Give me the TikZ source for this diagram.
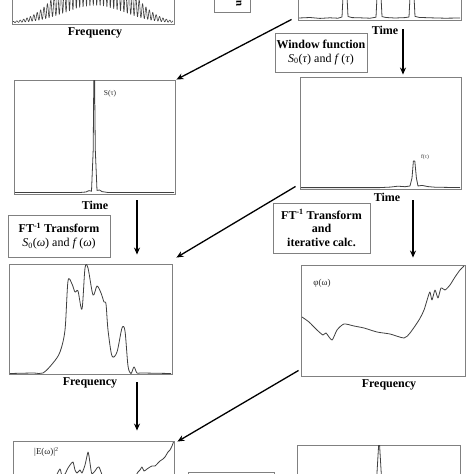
\documentclass[tikz,border=0pt]{standalone}
\usepackage{fontspec}
\setmainfont{Liberation Serif}
\usetikzlibrary{arrows.meta,calc}
\begin{document}
\begin{tikzpicture}[x=1pt,y=-1pt,
  panel/.style={draw=black!50,line width=0.9pt,inner sep=0pt,rectangle},
  tbox/.style={draw=black!50,line width=0.9pt,inner sep=0pt,rectangle,align=center,font=\bfseries\fontsize{12}{14.5}\selectfont},
  lab/.style={font=\bfseries\fontsize{12}{14}\selectfont,inner sep=0pt},
  curve/.style={draw=black!75,line width=0.8pt,line join=round},
  arr/.style={draw=black,line width=1.3pt,-{Stealth[length=7pt,width=6pt]}},
  sml/.style={inner sep=0pt,text=black!85}]
\useasboundingbox (0,0) rectangle (474,474);
\fill[white] (0,0) rectangle (474,474);

% panels
\node[panel,minimum width=162pt,minimum height=54pt] (tl) at (93,-3) {};
\node[panel,minimum width=163pt,minimum height=50pt] (tr) at (379.5,-5) {};
\node[panel,minimum width=161pt,minimum height=114pt] (ml) at (94.5,137) {};
\node[panel,minimum width=161pt,minimum height=112pt] (mr) at (380.5,133) {};
\node[panel,minimum width=163pt,minimum height=110pt] (bl3) at (90.5,319) {};
\node[panel,minimum width=164pt,minimum height=111pt] (br3) at (383,320.5) {};
\node[panel,minimum width=161pt,minimum height=110pt] (bl) at (93.5,496) {};
\node[panel,minimum width=163pt,minimum height=110pt] (br) at (378.5,500) {};

% grey boxes
\node[tbox,minimum width=36pt,minimum height=34pt] (topbox) at (232,-5) {};
\begin{scope}
\clip (214,0) rectangle (250,12);
\node[rotate=90,font=\bfseries\fontsize{11}{12}\selectfont,inner sep=0pt] (toptxt) at (239,3.5) {u};
\end{scope}
\node[tbox,minimum width=86pt,minimum height=56pt] (botbox) at (231,500) {};

\node[tbox,minimum width=92pt,minimum height=39pt] (win) at (321,52.5)
  {Window function\\[-1pt]\mdseries\textit{S}\textsubscript{0}(\textit{τ}) and \textit{f}\,(\textit{τ})};
\node[tbox,minimum width=102pt,minimum height=42pt] (ftl) at (59,236)
  {FT\textsuperscript{-1} Transform\\[-1pt]\mdseries\textit{S}\textsubscript{0}(\textit{ω}) and \textit{f}\,(\textit{ω})};
\node[tbox,minimum width=97pt,minimum height=50pt] (ftr) at (321.5,228)
  {FT\textsuperscript{-1} Transform\\[-1pt]and\\[-1pt]iterative calc.};

% axis labels
\node[lab] (lab1) at (95,33) {Frequency};
\node[lab] (lab2) at (385,30) {Time};
\node[lab] (lab3) at (95,205) {Time};
\node[lab] (lab4) at (387,197) {Time};
\node[lab] (lab5) at (90,383) {Frequency};
\node[lab] (lab6) at (389,385) {Frequency};

% small labels
\node[sml,font=\fontsize{7.5}{8}\selectfont] (sl) at (110,94) {S(τ)};
\node[sml,font=\fontsize{5.5}{6}\selectfont] (fl) at (425,157) {f(τ)};
\node[sml,font=\fontsize{9}{10}\selectfont] (pl) at (322,283) {φ(ω)};
\node[sml,font=\fontsize{9}{10}\selectfont,anchor=west] (el) at (34,452) {|E(ω)|\textsuperscript{2}};

% top-left spectrum
\begin{scope}
\clip (12,-40) rectangle (174,24);
\draw[curve,line width=0.6pt] plot[domain=13:173,samples=700]
  (\x,{23 - 70*exp(-((\x-95)/42)^2)*(0.25+0.75*(0.5+0.5*cos(105.88*(\x-95))))});
\end{scope}

% top-right trace
\begin{scope}
\clip (298,-40) rectangle (461,20);
\draw[curve] (299,18) -- (310,17.5) -- (320,18.4) -- (330,17.8) -- (338,18.2) -- (342,17) -- (344.3,-30) -- (345.7,-30) -- (348,16.5) -- (352,17.6) -- (360,17.8) -- (370,18.2) -- (376,17.2) -- (378.3,-30) -- (379.7,-30) -- (382,16.6) -- (386,17.5) -- (395,18) -- (405,17.6) -- (409,17) -- (411.3,-30) -- (412.7,-30) -- (415,16.4) -- (419,17.4) -- (430,17.8) -- (445,18.2) -- (460,18);
\end{scope}

% middle-left S(tau)
\draw[curve] (15,192.5) -- (80,192.5) -- (86,192) -- (89,190.6) -- (91.5,191.2) -- (93.2,150) -- (93.8,80.5) -- (94.6,80.5) -- (95.3,150) -- (97,190.4) -- (99.5,190) -- (102,191.6) -- (108,192.5) -- (174,192.5);

% middle-right f(tau)
\draw[curve] (301,187.6) -- (380,187.6) -- (390,187.1) -- (398,186.2) -- (405,186.7) -- (410,186) -- (412,178) -- (413.4,161) -- (414.8,161) -- (416.4,178) -- (418,186) -- (422,185.4) -- (428,186.6) -- (435,187.2) -- (460,187.6);

% third-left spectrum
\draw[curve] plot[smooth,tension=0.5] coordinates {
 (10,373.5) (33,373) (43,373) (53,363) (60,352) (65,330) (68,281) (72,284) (75,292) (78,291)
 (82,309) (85,268) (88,268) (93,295) (97,286) (101,293) (104,302) (106,304) (108,330)
 (112,356) (117,352) (122,328) (125,331) (128,366) (131,373.5) (134,367) (137,373) (142,373) (171,373.5)};

% third-right phase
\draw[curve] plot[smooth,tension=0.4] coordinates {
 (302,317) (309,322) (317,330) (323,335) (326,333) (332,340) (337,330) (344,324) (354,326)
 (364,328) (377,332) (390,334) (404,338) (410,333) (419,320) (424,310) (428,297) (430,292)
 (432,300) (435,290) (438,298) (441,288) (445,290) (450,285) (455,277) (460,270) (464,266)};

% bottom-left |E|^2
\begin{scope}
\clip (13,441) rectangle (174,474);
\draw[curve] plot[smooth,tension=0.4] coordinates {
 (50,482) (56,476) (60,469) (62,476) (65,474) (68,468) (70,465) (73,462) (75,470) (77,473)
 (80,470) (82,473) (85,465) (87,456) (88,452) (89,456) (91,470) (92,474) (95,471) (97,468)
 (99,467) (101,472) (104,480)};
\draw[curve] plot[smooth,tension=0.4] coordinates {
 (132,482) (138,472) (140,470) (142,467) (144,471) (147,469) (150,467) (152,466) (155,466)
 (158,463) (160,461) (163,459) (165,457) (168,452) (170,450) (172,446) (173.5,442)};
\end{scope}

% bottom-right peak
\draw[curve] (376.8,476) -- (378.6,445.5) -- (379.6,445.5) -- (381.4,476);

% arrows
\draw[arr] ($(tr.south west)+(-6,-1)$) -- ($(ml.north east)+(1,0)$);
\draw[arr] ($(tr.south)+(23.5,9)$) -- ($(mr.north)+(22.5,-2)$);
\draw[arr] ($(mr.south west)+(-4,-3)$) -- ($(bl3.north east)+(4,-6)$);
\draw[arr] ($(ml.south)+(42.5,6)$) -- ($(bl3.north)+(46.5,-9)$);
\draw[arr] ($(mr.south)+(32.5,11)$) -- ($(br3.north)+(30,-7)$);
\draw[arr] ($(br3.south west)+(-2,-6)$) -- ($(bl.north east)+(3,1)$);
\draw[arr] ($(bl3.south)+(46.5,8)$) -- ($(bl.north)+(43.5,-10)$);
\end{tikzpicture}
\end{document}
